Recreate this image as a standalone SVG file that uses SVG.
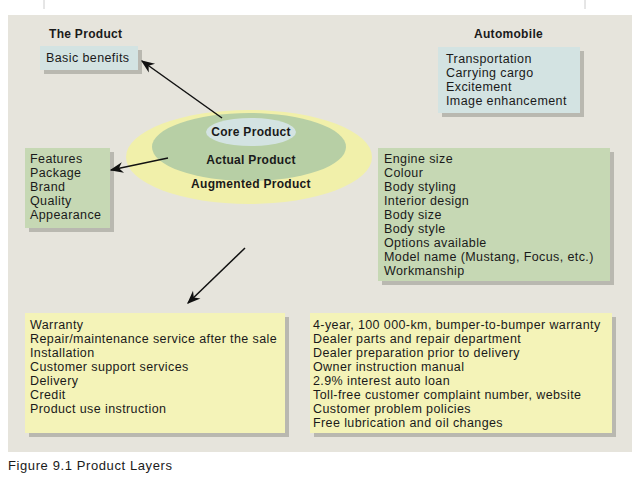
<svg xmlns="http://www.w3.org/2000/svg" width="638" height="479" viewBox="0 0 638 479">
<style>
text{font-family:"Liberation Sans",Arial,sans-serif;font-size:12.5px;letter-spacing:0.4px;fill:#1a1a1a}
.b{font-weight:bold;font-size:12px;letter-spacing:0.3px}
.sh{fill:#b9b8b0}
.blue{fill:#d3e3e2}.green{fill:#c6d8b4}.yel{fill:#f4f3b8}
</style>
<defs><marker id="ah" viewBox="0 0 10 10" refX="9" refY="5" markerWidth="9" markerHeight="9" orient="auto"><path d="M0,1 L10,5 L0,9 L3,5Z" fill="#111"/></marker></defs>
<rect width="638" height="479" fill="#fff"/>
<line x1="44" y1="0" x2="44" y2="9" stroke="#ccc"/><line x1="585" y1="0" x2="585" y2="9" stroke="#ccc"/>
<rect x="8" y="15" width="624" height="437" fill="#e6e4dc"/>
<text x="49" y="38" class="b">The Product</text>
<text x="474" y="38" class="b">Automobile</text>
<g id="basic"><rect class="sh" x="44" y="50" width="98" height="24"/><rect class="blue" x="40" y="46" width="98" height="24"/><text x="46" y="62">Basic benefits</text></g>
<g id="auto"><rect class="sh" x="442" y="51" width="142" height="66"/><rect class="blue" x="438" y="47" width="142" height="66"/><text x="446" y="63">Transportation</text><text x="446" y="77">Carrying cargo</text><text x="446" y="91">Excitement</text><text x="446" y="105">Image enhancement</text></g>
<g id="layers">
<ellipse cx="249" cy="157" rx="123" ry="47" fill="#f1f0aa"/>
<ellipse cx="249" cy="147" rx="97" ry="34" fill="#b7cfa5"/>
<ellipse cx="251" cy="132" rx="45" ry="14" fill="#d3e3e2"/>
<text x="251" y="136" class="b" text-anchor="middle">Core Product</text>
<text x="251" y="164" class="b" text-anchor="middle">Actual Product</text>
<text x="251" y="188" class="b" text-anchor="middle">Augmented Product</text>
</g>
<g id="features"><rect class="sh" x="29" y="152" width="85" height="80"/><rect class="green" x="25" y="148" width="85" height="80"/><text x="30" y="163">Features</text><text x="30" y="177">Package</text><text x="30" y="191">Brand</text><text x="30" y="205">Quality</text><text x="30" y="219">Appearance</text></g>
<g id="engine"><rect class="sh" x="382" y="152" width="232" height="133"/><rect class="green" x="378" y="148" width="232" height="133"/><text x="384" y="163">Engine size</text><text x="384" y="177">Colour</text><text x="384" y="191">Body styling</text><text x="384" y="205">Interior design</text><text x="384" y="219">Body size</text><text x="384" y="233">Body style</text><text x="384" y="247">Options available</text><text x="384" y="261">Model name (Mustang, Focus, etc.)</text><text x="384" y="275">Workmanship</text></g>
<g id="warranty"><rect class="sh" x="29" y="317" width="260" height="120"/><rect class="yel" x="25" y="313" width="260" height="120"/><text x="30" y="329">Warranty</text><text x="30" y="343">Repair/maintenance service after the sale</text><text x="30" y="357">Installation</text><text x="30" y="371">Customer support services</text><text x="30" y="385">Delivery</text><text x="30" y="399">Credit</text><text x="30" y="413">Product use instruction</text></g>
<g id="auto-aug"><rect class="sh" x="314" y="317" width="302" height="120"/><rect class="yel" x="310" y="313" width="302" height="120"/><text x="313" y="329">4-year, 100 000-km, bumper-to-bumper warranty</text><text x="313" y="343">Dealer parts and repair department</text><text x="313" y="357">Dealer preparation prior to delivery</text><text x="313" y="371">Owner instruction manual</text><text x="313" y="385">2.9% interest auto loan</text><text x="313" y="399">Toll-free customer complaint number, website</text><text x="313" y="413">Customer problem policies</text><text x="313" y="427">Free lubrication and oil changes</text></g>
<g id="connectors" stroke="#111" stroke-width="1.5" fill="none">
<line x1="222" y1="118" x2="142" y2="61" marker-end="url(#ah)"/>
<line x1="168" y1="158" x2="111" y2="170" marker-end="url(#ah)"/>
<line x1="245" y1="248" x2="188" y2="303" marker-end="url(#ah)"/>
</g>
<text x="8" y="470" style="font-size:13px;letter-spacing:0.6px">Figure 9.1  Product Layers</text>
</svg>
